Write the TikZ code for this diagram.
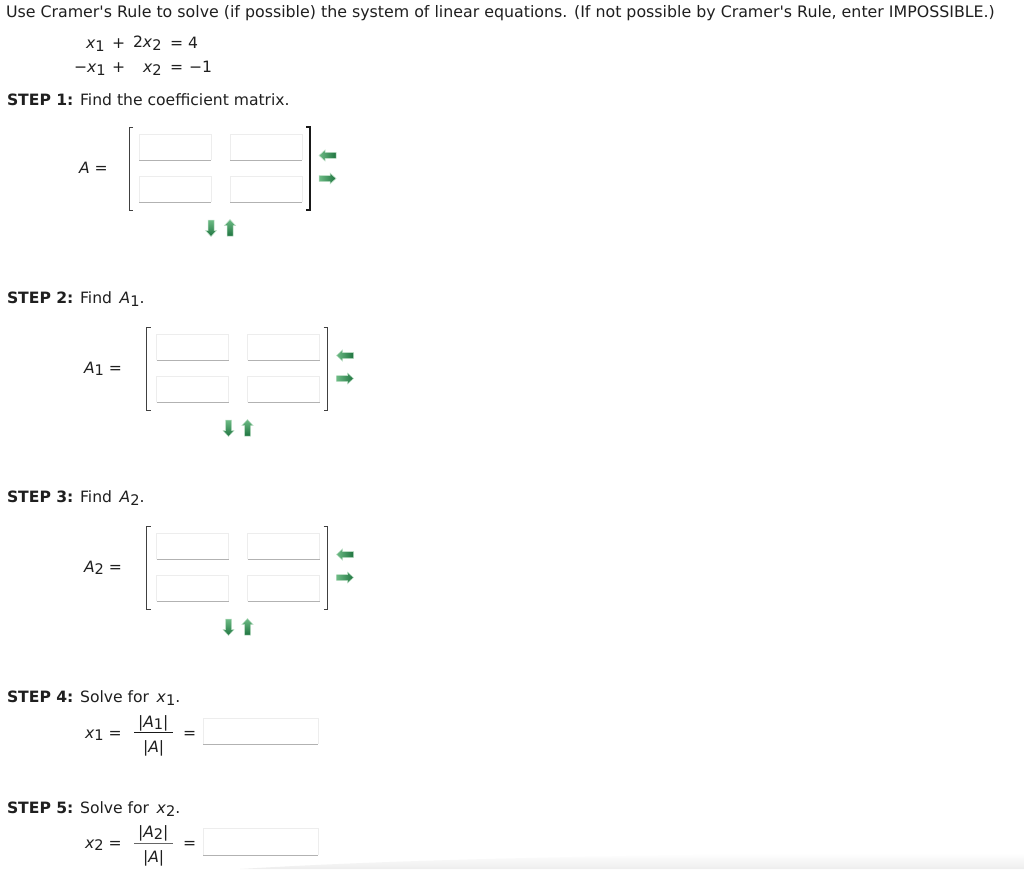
\documentclass[tikz,border=0pt]{standalone}
\usepackage{fontspec}
\setmainfont{DejaVu Sans}
\newfontfamily\plainap{DejaVu Sans}
\definecolor{arlight}{HTML}{6DBB85}
\definecolor{ardark}{HTML}{1F7440}
\definecolor{arline}{HTML}{BFE0C8}
\newcommand{\xs}[1]{\textit{#1}}
\newcommand{\ssb}[1]{\raisebox{-0.3ex}{\fontsize{14.6}{15}\selectfont #1}}
\newcommand{\vx}[1]{\xs{x}\ssb{#1}}
\newcommand{\vA}[1]{\xs{A}\ssb{#1}}
\newcommand{\apos}{{\plainap\symbol{39}}}
\tikzset{
 txt/.style={anchor=base west,inner sep=0pt,outer sep=0pt,text=black!88,font=\fontsize{15.6}{18}\selectfont},
 toptxt/.style={txt,font=\fontsize{15.82}{18}\selectfont},
 boxtop/.style={draw=black!7,line width=0.9pt},
 boxbot/.style={draw=black!30,line width=1pt},
 brk/.style={draw=black!75,line width=0.9pt},
 brkr/.style={draw=black!90,line width=1.4pt},
 arrowL/.style={draw=arline,line width=0.5pt,left color=arlight,right color=ardark},
 arrowV/.style={draw=arline,line width=0.5pt,top color=arlight,bottom color=ardark},
}
\newcommand{\ibox}[4]{% name x y width
 \coordinate (#1a) at (#2,#3);
 \draw[boxtop] (#2,#3+26) -- (#2,#3) -- (#2+#4,#3) -- (#2+#4,#3+26);
 \draw[boxbot] (#2,#3+26.5) -- (#2+#4,#3+26.5);
}
\newcommand{\arrL}[2]{\path[arrowL]
 (#1,#2) -- (#1+6,#2-5.5) -- (#1+6,#2-3) -- (#1+17,#2-3) -- (#1+17,#2+3) -- (#1+6,#2+3) -- (#1+6,#2+5.5) -- cycle;}
\newcommand{\arrR}[2]{\path[arrowL]
 (#1+17,#2) -- (#1+11,#2-5.5) -- (#1+11,#2-3) -- (#1,#2-3) -- (#1,#2+3) -- (#1+11,#2+3) -- (#1+11,#2+5.5) -- cycle;}
\newcommand{\arrD}[2]{\path[arrowV]
 (#1,#2+8.5) -- (#1-5.5,#2+2.5) -- (#1-3,#2+2.5) -- (#1-3,#2-8) -- (#1+3,#2-8) -- (#1+3,#2+2.5) -- (#1+5.5,#2+2.5) -- cycle;}
\newcommand{\arrU}[2]{\path[arrowV]
 (#1,#2-8.5) -- (#1-5.5,#2-2.5) -- (#1-3,#2-2.5) -- (#1-3,#2+8) -- (#1+3,#2+8) -- (#1+3,#2-2.5) -- (#1+5.5,#2-2.5) -- cycle;}
\newcommand{\mat}[4]{% x-offset y-offset name-prefix right style
 \begin{scope}[shift={(#1,#2)}]
 \ibox{#3p}{139}{134}{72}
 \ibox{#3q}{230}{134}{72}
 \ibox{#3r}{139}{176}{72}
 \ibox{#3s}{230}{176}{72}
 \draw[brk] (133,127) -- (129,127) -- (129,210) -- (133,210);
 \draw[#4] (306,127) -- (310,127) -- (310,210) -- (306,210);
 \arrL{319}{155.5}
 \arrR{319}{178.5}
 \arrD{211}{228}
 \arrU{230}{228}
 \end{scope}
}
\begin{document}
\begin{tikzpicture}[x=1pt,y=-1pt]
\useasboundingbox (0,0) rectangle (1024,869);
\fill[white] (0,0) rectangle (1024,869);
\begin{scope}
\clip (240,869) .. controls (420,858) and (700,853) .. (1024,853) -- (1024,869) -- cycle;
\shade[top color=white,bottom color=black!7] (240,853) rectangle (1024,869);
\end{scope}

\node[toptxt] (intro) at (6,17.7) {Use Cramer\apos s Rule to solve (if possible) the system of linear equations. (If not possible by Cramer\apos s Rule, enter IMPOSSIBLE.)};

\node[txt] (e1a) at (86,49) {\vx{1}};
\node[txt] (e1b) at (112,49) {+};
\node[txt] (e1c) at (133,48) {2\vx{2}};
\node[txt] (e1d) at (170,49) {=};
\node[txt] (e1e) at (188,49) {4};
\node[txt] (e2a) at (74,73) {−\vx{1}};
\node[txt] (e2b) at (112,73) {+};
\node[txt] (e2c) at (143,73) {\vx{2}};
\node[txt] (e2d) at (170,73) {=};
\node[txt] (e2e) at (189,73) {−1};

\node[txt] (s1) at (7,105.5) {\textbf{STEP 1:} Find the coefficient matrix.};
\node[txt] (lA) at (79,173) {\xs{A} =};
\mat{0}{0}{a}{brkr}

\node[txt] (s2) at (7,303.5) {\textbf{STEP 2:} Find \,\vA{1}.};
\node[txt] (lA1) at (84,373) {\vA{1} =};
\mat{17.5}{200}{b}{brk}

\node[txt] (s3) at (7,502.5) {\textbf{STEP 3:} Find \,\vA{2}.};
\node[txt] (lA2) at (84,572) {\vA{2} =};
\mat{17.5}{399}{c}{brk}

\node[txt] (s4) at (7,702.5) {\textbf{STEP 4:} Solve for \,\vx{1}.};
\node[txt] (l1) at (85,738) {\vx{1} =};
\node[txt] (n1) at (138,727) {|\vA{1}|};
\draw[draw=black!90,line width=1pt] (134,732.5) -- (173,732.5);
\node[txt] (d1) at (143,752) {|\xs{A}|};
\node[txt] (q1) at (183,738) {=};
\ibox{xa}{203}{718}{115}

\node[txt] (s5) at (7,813.5) {\textbf{STEP 5:} Solve for \,\vx{2}.};
\node[txt] (l2) at (85,848) {\vx{2} =};
\node[txt] (n2) at (138,837) {|\vA{2}|};
\draw[draw=black!60,line width=1pt] (134,843.5) -- (173,843.5);
\node[txt] (d2) at (143,862) {|\xs{A}|};
\node[txt] (q2) at (183,848) {=};
\ibox{xb}{203}{828.5}{115}
\end{tikzpicture}
\end{document}
